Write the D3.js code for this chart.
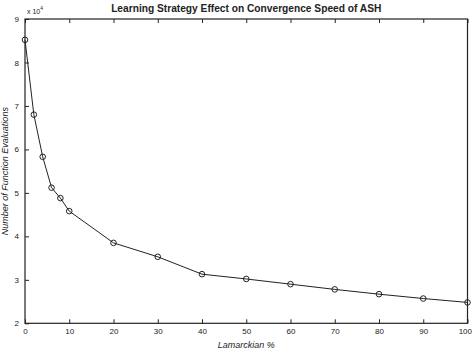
<!DOCTYPE html>
<html>
<head>
<meta charset="utf-8">
<script src="https://cdn.jsdelivr.net/npm/d3@7"></script>
<style>
  body { margin: 0; background: #fff; }
  svg { display: block; font-family: Arial, "Liberation Sans", sans-serif; }
</style>
</head>
<body>
<svg id="chart" width="474" height="351"></svg>
<script>
const lamarckian = [0, 2, 4, 6, 8, 10, 20, 30, 40, 50, 60, 70, 80, 90, 100];
const evaluations = [8.52, 6.8, 5.83, 5.12, 4.88, 4.58, 3.85, 3.53, 3.13, 3.02, 2.9, 2.78, 2.67, 2.57, 2.48];
const xTicks = [0, 10, 20, 30, 40, 50, 60, 70, 80, 90, 100];
const yTicks = [2, 3, 4, 5, 6, 7, 8, 9];

const svg = d3.select("#chart");
const margin = { top: 19, right: 6, bottom: 28, left: 25 };
const width = 474, height = 351;

const x = d3.scaleLinear().domain([0, 100]).range([margin.left, width - margin.right - 0.5]);
const y = d3.scaleLinear().domain([2, 9]).range([height - margin.bottom + 0.3, margin.top]);

const ink = "#222";

// frame
svg.append("rect")
    .attr("x", x(0)).attr("y", y(9))
    .attr("width", x(100) - x(0)).attr("height", y(2) - y(9))
    .attr("fill", "none").attr("stroke", ink).attr("stroke-width", 1.2);

// bottom axis, ticks inward
const bottomAxis = svg.append("g")
    .attr("transform", `translate(0,${y(2)})`)
    .call(d3.axisBottom(x).tickValues(xTicks).tickFormat(d3.format("d"))
      .tickSizeInner(-4).tickSizeOuter(0).tickPadding(6));
// top ticks
const topAxis = svg.append("g")
    .attr("transform", `translate(0,${y(9)})`)
    .call(d3.axisTop(x).tickValues(xTicks).tickSizeInner(-4).tickSizeOuter(0).tickFormat(""));
// left axis
const leftAxis = svg.append("g")
    .attr("transform", `translate(${x(0)},0)`)
    .call(d3.axisLeft(y).tickValues(yTicks).tickFormat(d3.format("d"))
      .tickSizeInner(-4).tickSizeOuter(0).tickPadding(6));

[bottomAxis, topAxis, leftAxis].forEach(g => {
  g.select(".domain").remove();
  g.selectAll("line").attr("stroke", ink);
  g.selectAll("text").attr("fill", ink).style("font-size", "8px");
});
bottomAxis.selectAll("text").attr("dy", "0.6em");
bottomAxis.selectAll(".tick:last-of-type text").attr("text-anchor", "end").attr("dx", 4);

// line
const line = d3.line().x((d, i) => x(lamarckian[i])).y(d => y(d));
svg.append("path")
    .datum(evaluations)
    .attr("fill", "none").attr("stroke", ink).attr("stroke-width", 1)
    .attr("d", line);

svg.selectAll("circle.pt")
    .data(evaluations)
    .enter().append("circle")
    .attr("class", "pt")
    .attr("cx", (d, i) => x(lamarckian[i]))
    .attr("cy", d => y(d))
    .attr("r", 2.8)
    .attr("fill", "none").attr("stroke", ink).attr("stroke-width", 1);

// exponent label
const exp = svg.append("text")
    .attr("x", x(0) + 2).attr("y", y(9) - 5)
    .attr("fill", ink).style("font-size", "7px");
exp.append("tspan").text("x 10");
exp.append("tspan").attr("dy", -4).style("font-size", "5px").text("4");

// title
svg.append("text")
    .attr("x", (x(0) + x(100)) / 2).attr("y", 12)
    .attr("text-anchor", "middle")
    .attr("fill", ink)
    .style("font-size", "10.2px").style("font-weight", "bold")
    .text("Learning Strategy Effect on Convergence Speed of ASH");

// axis titles
svg.append("text")
    .attr("x", (x(0) + x(100)) / 2).attr("y", 348)
    .attr("text-anchor", "middle")
    .attr("fill", ink)
    .style("font-size", "9px").style("font-style", "italic")
    .text("Lamarckian %");

svg.append("text")
    .attr("transform", `translate(8,${(y(2) + y(9)) / 2}) rotate(-90)`)
    .attr("text-anchor", "middle")
    .attr("fill", ink)
    .style("font-size", "9px").style("font-style", "italic")
    .text("Number of Function Evaluations");
</script>
</body>
</html>
